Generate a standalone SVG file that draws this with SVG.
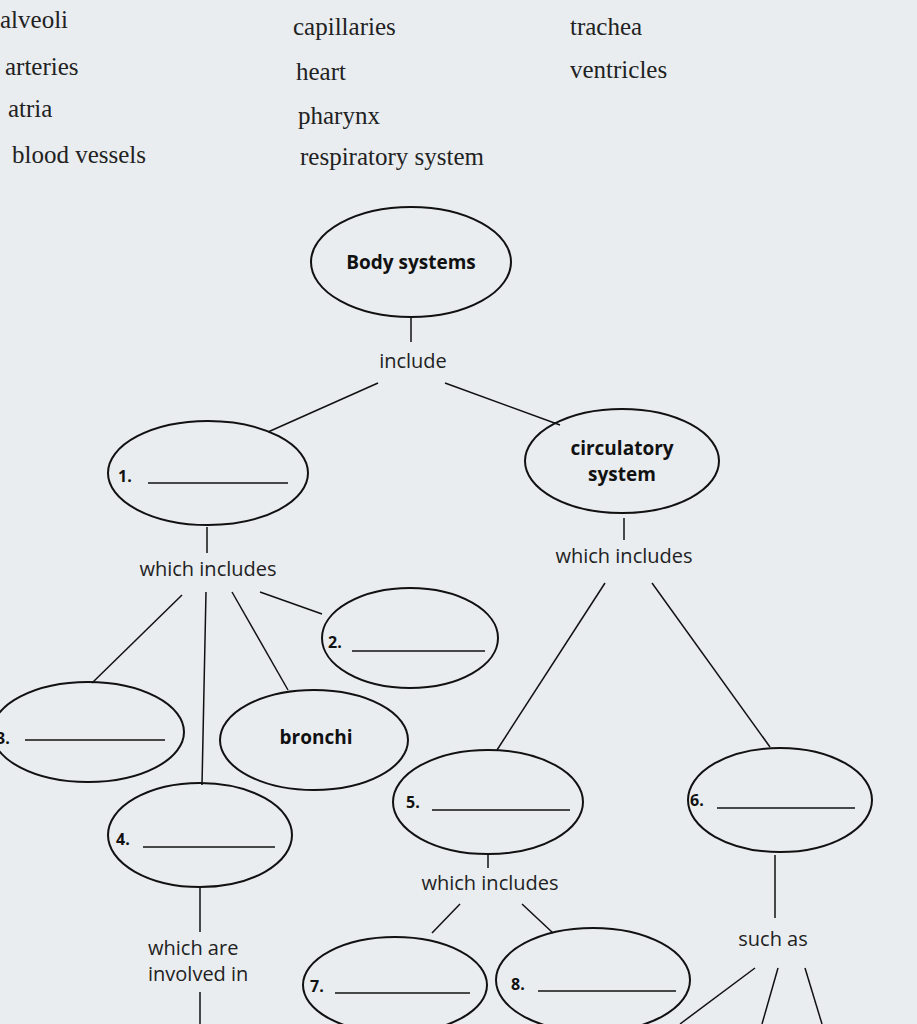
<svg xmlns="http://www.w3.org/2000/svg" width="917" height="1024" viewBox="0 0 917 1024">
<style>
.bank{font-family:"Liberation Serif",serif;font-size:25px;fill:#222}
.lbl{font-family:"Open Sans","Liberation Sans",sans-serif;font-size:20px;fill:#222}
.b{font-family:"Open Sans","Liberation Sans",sans-serif;font-size:19px;font-weight:bold;fill:#111;text-anchor:middle}
.n{font-family:"Open Sans","Liberation Sans",sans-serif;font-size:16px;font-weight:bold;fill:#111}
ellipse{fill:none;stroke:#111;stroke-width:2}
line{stroke:#111;stroke-width:1.6}
.c line{stroke-width:1.5}
</style>
<rect width="917" height="1024" fill="#e9edf0"/>
<g id="wordbank">
<text class="bank" x="0" y="28">alveoli</text>
<text class="bank" x="5" y="75">arteries</text>
<text class="bank" x="8" y="117">atria</text>
<text class="bank" x="12" y="163">blood vessels</text>
<text class="bank" x="293" y="35">capillaries</text>
<text class="bank" x="296" y="80">heart</text>
<text class="bank" x="298" y="124">pharynx</text>
<text class="bank" x="300" y="165">respiratory system</text>
<text class="bank" x="570" y="35">trachea</text>
<text class="bank" x="570" y="78">ventricles</text>
</g>
<g id="connectors" class="c">
<line x1="411" y1="318" x2="411" y2="342"/>
<line x1="378" y1="383" x2="268" y2="432"/>
<line x1="445" y1="383" x2="560" y2="425"/>
<line x1="207" y1="527" x2="207" y2="553"/>
<line x1="624" y1="518" x2="624" y2="540"/>
<line x1="182" y1="595" x2="92" y2="683"/>
<line x1="206" y1="592" x2="202" y2="785"/>
<line x1="232" y1="592" x2="288" y2="690"/>
<line x1="260" y1="592" x2="322" y2="614"/>
<line x1="605" y1="583" x2="497" y2="750"/>
<line x1="652" y1="583" x2="770" y2="747"/>
<line x1="488" y1="855" x2="488" y2="868"/>
<line x1="460" y1="904" x2="432" y2="933"/>
<line x1="522" y1="904" x2="553" y2="933"/>
<line x1="200" y1="888" x2="200" y2="932"/>
<line x1="200" y1="992" x2="200" y2="1024"/>
<line x1="775" y1="855" x2="775" y2="918"/>
<line x1="755" y1="968" x2="680" y2="1024"/>
<line x1="778" y1="968" x2="762" y2="1024"/>
<line x1="805" y1="968" x2="822" y2="1024"/>
</g>
<g id="labels">
<text class="lbl" x="413" y="368" text-anchor="middle">include</text>
<text class="lbl" x="208" y="576" text-anchor="middle">which includes</text>
<text class="lbl" x="624" y="563" text-anchor="middle">which includes</text>
<text class="lbl" x="490" y="890" text-anchor="middle">which includes</text>
<text class="lbl" x="148" y="955">which are</text>
<text class="lbl" x="148" y="981">involved in</text>
<text class="lbl" x="773" y="946" text-anchor="middle">such as</text>
</g>
<g id="body"><ellipse cx="411" cy="262" rx="100" ry="55"/><text class="b" x="411" y="269">Body systems</text></g>
<g id="n1"><ellipse cx="208" cy="473" rx="100" ry="52"/><text class="n" x="118" y="482">1.</text><line x1="148" y1="483" x2="288" y2="483"/></g>
<g id="circ"><ellipse cx="622" cy="461" rx="97" ry="52"/><text class="b" x="622" y="455" font-size="18">circulatory</text><text class="b" x="622" y="481" font-size="18">system</text></g>
<g id="n2"><ellipse cx="410" cy="638" rx="88" ry="50"/><text class="n" x="328" y="648">2.</text><line x1="352" y1="651" x2="485" y2="651"/></g>
<g id="n3"><ellipse cx="88" cy="732" rx="96" ry="50"/><text class="n" x="-4" y="744">3.</text><line x1="25" y1="740" x2="165" y2="740"/></g>
<g id="bronchi"><ellipse cx="314" cy="740" rx="94" ry="50"/><text class="b" x="316" y="744">bronchi</text></g>
<g id="n4"><ellipse cx="200" cy="835" rx="92" ry="52"/><text class="n" x="116" y="845">4.</text><line x1="143" y1="847" x2="275" y2="847"/></g>
<g id="n5"><ellipse cx="488" cy="802" rx="95" ry="52"/><text class="n" x="406" y="808">5.</text><line x1="432" y1="810" x2="570" y2="810"/></g>
<g id="n6"><ellipse cx="780" cy="800" rx="92" ry="52"/><text class="n" x="690" y="806">6.</text><line x1="717" y1="808" x2="855" y2="808"/></g>
<g id="n7"><ellipse cx="395" cy="985" rx="92" ry="48"/><text class="n" x="310" y="992">7.</text><line x1="335" y1="993" x2="470" y2="993"/></g>
<g id="n8"><ellipse cx="593" cy="980" rx="97" ry="52"/><text class="n" x="511" y="990">8.</text><line x1="538" y1="991" x2="676" y2="991"/></g>
</svg>
